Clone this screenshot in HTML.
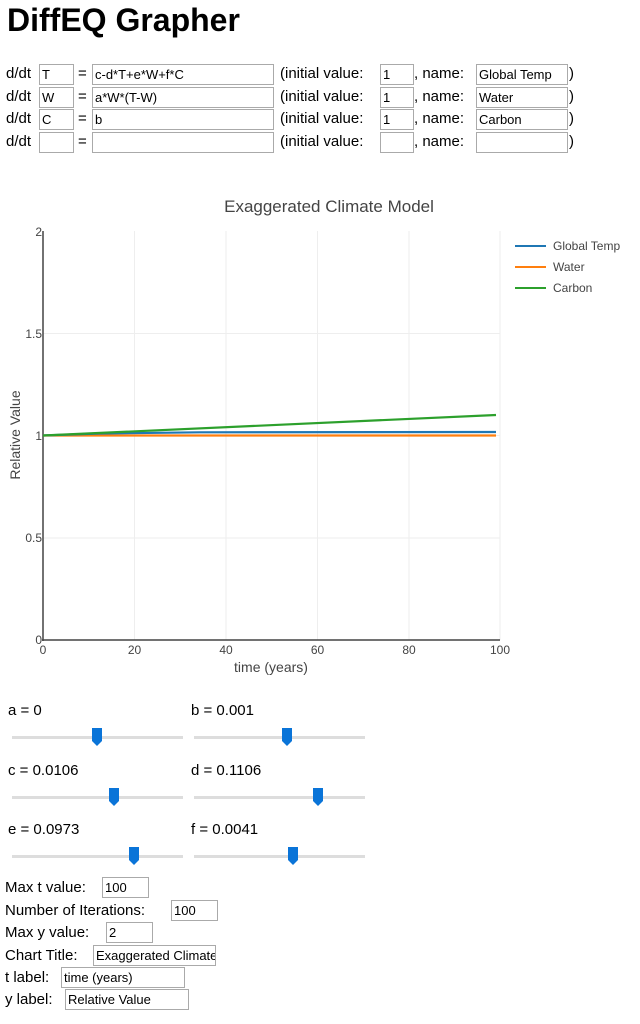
<!DOCTYPE html>
<html><head><meta charset="utf-8"><style>
body{margin:0;width:640px;height:1024px;background:#fff;font-family:"Liberation Sans",sans-serif;position:relative;overflow:hidden}
.a{position:absolute;white-space:nowrap}
.t{font-size:15px;color:#000}
.box{position:absolute;border:1px solid #aaa;box-sizing:border-box;height:21px;font-size:13px;line-height:19px;padding-left:2px;background:#fff;color:#000;font-family:"Liberation Sans",sans-serif;white-space:nowrap;overflow:hidden}
.track{position:absolute;height:3px;background:#ddd;width:171px}
</style></head><body>
<div class="a" style="left:7px;top:2px;font-size:32px;font-weight:bold">DiffEQ Grapher</div>

<div class="a t" style="left:6px;top:65px">d/dt</div><div class="box" style="left:39px;top:64px;width:35px">T</div><div class="a t" style="left:78px;top:65px">=</div><div class="box" style="left:92px;top:64px;width:182px">c-d*T+e*W+f*C</div><div class="a t" style="left:280px;top:65px">(initial value:</div><div class="box" style="left:380px;top:64px;width:34px">1</div><div class="a t" style="left:414px;top:65px">, name:</div><div class="box" style="left:476px;top:64px;width:92px">Global Temp</div><div class="a t" style="left:569px;top:65px">)</div>

<div class="a t" style="left:6px;top:88px">d/dt</div><div class="box" style="left:39px;top:87px;width:35px">W</div><div class="a t" style="left:78px;top:88px">=</div><div class="box" style="left:92px;top:87px;width:182px">a*W*(T-W)</div><div class="a t" style="left:280px;top:88px">(initial value:</div><div class="box" style="left:380px;top:87px;width:34px">1</div><div class="a t" style="left:414px;top:88px">, name:</div><div class="box" style="left:476px;top:87px;width:92px">Water</div><div class="a t" style="left:569px;top:88px">)</div>

<div class="a t" style="left:6px;top:110px">d/dt</div><div class="box" style="left:39px;top:109px;width:35px">C</div><div class="a t" style="left:78px;top:110px">=</div><div class="box" style="left:92px;top:109px;width:182px">b</div><div class="a t" style="left:280px;top:110px">(initial value:</div><div class="box" style="left:380px;top:109px;width:34px">1</div><div class="a t" style="left:414px;top:110px">, name:</div><div class="box" style="left:476px;top:109px;width:92px">Carbon</div><div class="a t" style="left:569px;top:110px">)</div>

<div class="a t" style="left:6px;top:133px">d/dt</div><div class="box" style="left:39px;top:132px;width:35px"></div><div class="a t" style="left:78px;top:133px">=</div><div class="box" style="left:92px;top:132px;width:182px"></div><div class="a t" style="left:280px;top:133px">(initial value:</div><div class="box" style="left:380px;top:132px;width:34px"></div><div class="a t" style="left:414px;top:133px">, name:</div><div class="box" style="left:476px;top:132px;width:92px"></div><div class="a t" style="left:569px;top:133px">)</div>

<svg class="a" style="left:0;top:180px" width="640" height="500" viewBox="0 180 640 500" font-family="Liberation Sans, sans-serif">
<g stroke="#eee" stroke-width="1">
<line x1="134.5" y1="231" x2="134.5" y2="640"/><line x1="226" y1="231" x2="226" y2="640"/><line x1="317.5" y1="231" x2="317.5" y2="640"/><line x1="409" y1="231" x2="409" y2="640"/><line x1="500" y1="231" x2="500" y2="640"/>
<line x1="43" y1="333.5" x2="500" y2="333.5"/><line x1="43" y1="435.5" x2="500" y2="435.5"/><line x1="43" y1="538" x2="500" y2="538"/>
</g>
<line x1="43" y1="231" x2="43" y2="641" stroke="#444" stroke-width="1.5"/>
<line x1="42" y1="640" x2="500" y2="640" stroke="#444" stroke-width="1.5"/>
<polyline points="43,435.5 496,435.5" stroke="#ff7f0e" stroke-width="2.2" fill="none"/>
<polyline points="43,435.5 100,433.5 200,432.3 496,432" stroke="#1f77b4" stroke-width="2.2" fill="none"/>
<polyline points="43,435.5 496,415" stroke="#2ca02c" stroke-width="2.2" fill="none"/>
<g font-size="12" fill="#444" text-anchor="end">
<text x="42" y="236">2</text><text x="42" y="338">1.5</text><text x="42" y="440">1</text><text x="42" y="542">0.5</text><text x="42" y="644">0</text>
</g>
<g font-size="12" fill="#444" text-anchor="middle">
<text x="43" y="654">0</text><text x="134.5" y="654">20</text><text x="226" y="654">40</text><text x="317.5" y="654">60</text><text x="409" y="654">80</text><text x="500" y="654">100</text>
</g>
<text x="271" y="672" font-size="14" fill="#444" text-anchor="middle">time (years)</text>
<text transform="translate(20,435) rotate(-90)" font-size="14" fill="#444" text-anchor="middle">Relative Value</text>
<text x="329" y="212" font-size="17" fill="#444" text-anchor="middle">Exaggerated Climate Model</text>
<g font-size="12" fill="#444">
<line x1="515" y1="246" x2="546" y2="246" stroke="#1f77b4" stroke-width="2"/><text x="553" y="250">Global Temp</text>
<line x1="515" y1="267" x2="546" y2="267" stroke="#ff7f0e" stroke-width="2"/><text x="553" y="271">Water</text>
<line x1="515" y1="288" x2="546" y2="288" stroke="#2ca02c" stroke-width="2"/><text x="553" y="292">Carbon</text>
</g>
</svg>

<div class="a t" style="left:8px;top:702px">a = 0</div>
<div class="a t" style="left:191px;top:702px">b = 0.001</div>
<div class="a t" style="left:8px;top:762px">c = 0.0106</div>
<div class="a t" style="left:191px;top:762px">d = 0.1106</div>
<div class="a t" style="left:8px;top:821px">e = 0.0973</div>
<div class="a t" style="left:191px;top:821px">f = 0.0041</div>

<div class="track" style="left:12px;top:736px"></div><div class="track" style="left:194px;top:736px"></div>
<div class="track" style="left:12px;top:796px"></div><div class="track" style="left:194px;top:796px"></div>
<div class="track" style="left:12px;top:855px"></div><div class="track" style="left:194px;top:855px"></div>
<svg class="a" style="left:0;top:0" width="640" height="1024">
<defs><path id="th" d="M-5,-9 H5 V4 L0,9 L-5,4 Z" fill="#0a74d8"/></defs>
<use href="#th" x="97" y="737"/><use href="#th" x="287" y="737"/>
<use href="#th" x="114" y="797"/><use href="#th" x="318" y="797"/>
<use href="#th" x="134" y="856"/><use href="#th" x="293" y="856"/>
</svg>

<div class="a t" style="left:5px;top:879px">Max t value:</div><div class="box" style="left:102px;top:877px;width:47px">100</div>
<div class="a t" style="left:5px;top:902px">Number of Iterations:</div><div class="box" style="left:171px;top:900px;width:47px">100</div>
<div class="a t" style="left:5px;top:924px">Max y value:</div><div class="box" style="left:106px;top:922px;width:47px">2</div>
<div class="a t" style="left:5px;top:947px">Chart Title:</div><div class="box" style="left:93px;top:945px;width:123px">Exaggerated Climate Model</div>
<div class="a t" style="left:5px;top:969px">t label:</div><div class="box" style="left:61px;top:967px;width:124px">time (years)</div>
<div class="a t" style="left:5px;top:991px">y label:</div><div class="box" style="left:65px;top:989px;width:124px">Relative Value</div>
</body></html>
